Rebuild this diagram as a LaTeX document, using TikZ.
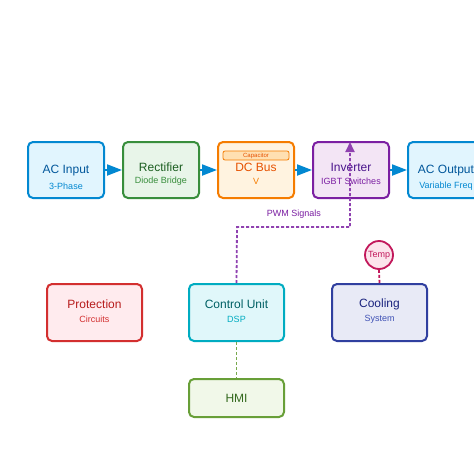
\documentclass[tikz,border=0pt]{standalone}
\usepackage{fontspec}
\setmainfont{Liberation Sans}
\usetikzlibrary{arrows.meta}
\definecolor{inB}{HTML}{0288D1}\definecolor{inF}{HTML}{E1F5FE}\definecolor{inT}{HTML}{01579B}
\definecolor{reB}{HTML}{388E3C}\definecolor{reF}{HTML}{E8F5E9}\definecolor{reT}{HTML}{1B5E20}
\definecolor{dcB}{HTML}{F57C00}\definecolor{dcF}{HTML}{FFF3E0}\definecolor{dcT}{HTML}{E65100}\definecolor{capF}{HTML}{FFE0B2}
\definecolor{ivB}{HTML}{7B1FA2}\definecolor{ivF}{HTML}{F3E5F5}\definecolor{ivT}{HTML}{4A148C}
\definecolor{prB}{HTML}{D32F2F}\definecolor{prF}{HTML}{FFEBEE}\definecolor{prT}{HTML}{B71C1C}
\definecolor{cuB}{HTML}{00ACC1}\definecolor{cuF}{HTML}{E0F7FA}\definecolor{cuT}{HTML}{006064}
\definecolor{coB}{HTML}{303F9F}\definecolor{coF}{HTML}{E8EAF6}\definecolor{coT}{HTML}{1A237E}\definecolor{coS}{HTML}{3F51B5}
\definecolor{hmB}{HTML}{689F38}\definecolor{hmF}{HTML}{F1F8E9}\definecolor{hmT}{HTML}{33691E}
\definecolor{tpB}{HTML}{C2185B}\definecolor{tpF}{HTML}{FCE4EC}
\tikzset{
  blk/.style={draw=#1B,fill=#1F,line width=2pt,rounded corners=5pt,minimum width=76pt,minimum height=56pt,inner sep=0pt},
  blkw/.style={draw=#1B,fill=#1F,line width=2pt,rounded corners=5pt,minimum width=95pt,minimum height=57pt,inner sep=0pt},
  ttl/.style={text=#1,font=\fontsize{12}{14}\selectfont,inner sep=0pt},
  sub/.style={text=#1,font=\fontsize{9}{11}\selectfont,inner sep=0pt},
  flow/.style={draw=inB,line width=2pt,-{Triangle[length=15pt,width=11pt]}},
  sig/.style={line width=1.8pt,dash pattern=on 3pt off 2pt}
}
\begin{document}
\begin{tikzpicture}[x=1pt,y=-1pt]
\useasboundingbox (0,0) rectangle (474,474);
\clip (0,0) rectangle (474,474);
\fill[white] (0,0) rectangle (474,474);
% main chain
\node[blk=in] (acin) at (66,170) {};
\node[blk=re] (rect) at (161,170) {};
\node[blk=dc] (dcbus) at (256,170) {};
\node[blk=iv] (inv) at (351,170) {};
\node[blk=in] (acout) at (446,170) {};
\node[draw=dcB,fill=capF,line width=0.8pt,rounded corners=2pt,minimum width=66pt,minimum height=9pt,inner sep=0pt] (cap) at (256,155.5) {};
\node[text=dcT,font=\fontsize{6}{7}\selectfont,inner sep=0pt] (capt) at (256,156) {Capacitor};
\node[ttl=inT] (acint) at (66,171) {AC Input};
\node[sub=inB] (acins) at (66,186) {3-Phase};
\node[ttl=reT] (rectt) at (161,167) {Rectifier};
\node[sub=reB] (rects) at (161,181.5) {Diode Bridge};
\node[ttl=dcT] (dct) at (256,167) {DC Bus};
\node[sub=dcB] (dcs) at (256,181.5) {V};
\node[ttl=ivT] (invt) at (351,167) {Inverter};
\node[sub=ivB] (invs) at (351,181.5) {IGBT Switches};
\node[ttl=inT] (acoutt) at (446,171) {AC Output};
\node[sub=inB] (acouts) at (446,186) {Variable Freq};
\draw[flow] (acin) -- (rect);
\draw[flow] (rect) -- (dcbus);
\draw[flow] (dcbus) -- (inv);
\draw[flow] (inv) -- (acout);
% lower row
\node[blkw=pr] (prot) at (94.5,312.5) {};
\node[blkw=cu] (ctrl) at (236.5,312.5) {};
\node[blkw=co] (cool) at (379.5,312.5) {};
\node[draw=hmB,fill=hmF,line width=2pt,rounded corners=5pt,minimum width=95pt,minimum height=38pt,inner sep=0pt] (hmi) at (236.5,398) {};
\node[ttl=prT] (prott) at (94.5,304) {Protection};
\node[sub=prB] (prots) at (94.5,319) {Circuits};
\node[ttl=cuT] (ctrlt) at (236.5,304) {Control Unit};
\node[sub=cuB] (ctrls) at (236.5,319) {DSP};
\node[ttl=coT] (coolt) at (379.5,304) {Cooling};
\node[sub=coS] (cools) at (379.5,319) {System};
\node[ttl=hmT] (hmit) at (236.5,398.5) {HMI};
\node[circle,draw=tpB,fill=tpF,line width=1.8pt,minimum size=28pt,inner sep=0pt,text=tpB,font=\fontsize{9}{11}\selectfont] (temp) at (379,255) {Temp};
% signals
\coordinate (pwmA) at (237,227);
\coordinate (pwmB) at (350,227);
\coordinate (pwmEnd) at (350,142);
\draw[sig,draw=ivB!85,-{Triangle[length=10pt,width=9pt]}] (ctrl.north) -- (pwmA) -- (pwmB) -- (pwmEnd);
\node[sub=ivB] (pwml) at (294,214) {PWM Signals};
\draw[sig,draw=hmB!90] (ctrl.south) -- (hmi.north);
\draw[sig,draw=tpB] (temp.south) -- (cool.north);
\end{tikzpicture}
\end{document}
